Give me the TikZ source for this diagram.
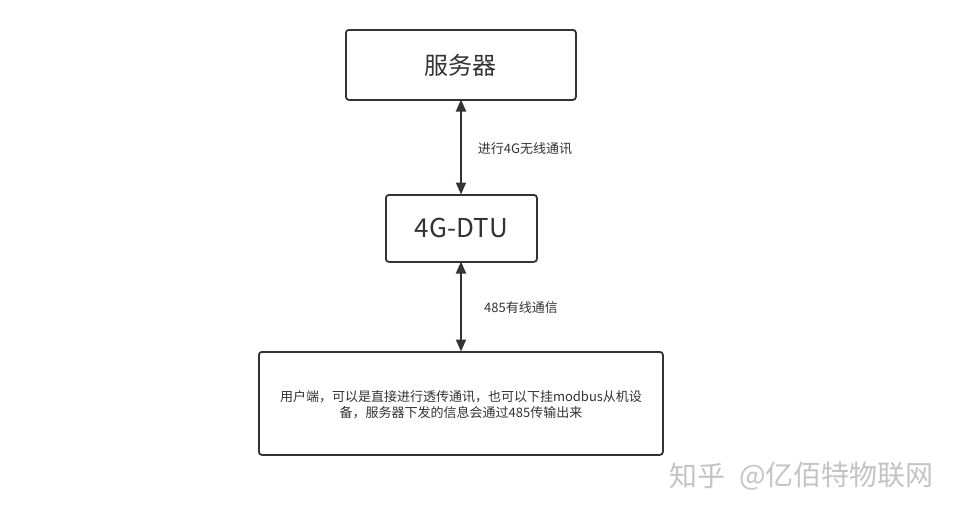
\documentclass[tikz,border=0pt]{standalone}
\usepackage{fontspec}
\setmainfont{Noto Sans CJK SC}[BoldFont={Noto Sans CJK SC}]
\usetikzlibrary{arrows.meta}
\definecolor{ink}{HTML}{333333}
\definecolor{mark}{HTML}{C4C4C4}
\tikzset{
  x=1pt,y=-1pt,
  flowbox/.style={draw=ink,line width=1.8pt,rounded corners=3pt,inner sep=0pt,anchor=north west,fill=white,text=ink,align=center},
  link/.style={draw=ink,line width=1.8pt,{Triangle[length=12pt,width=10pt]}-{Triangle[length=12pt,width=10pt]}},
  linklabel/.style={text=ink,font=\fontsize{13}{15}\selectfont,inner sep=0pt},
  watermark/.style={text=mark,font=\fontsize{28}{32}\selectfont,inner sep=0pt},
}
\begin{document}
\begin{tikzpicture}
\useasboundingbox (0,0) rectangle (956,514);
\fill[white] (0,0) rectangle (956,514);
\node[flowbox,minimum width=230pt,minimum height=70pt,font=\fontsize{24}{28}\selectfont] (server) at (345,29) {服务器};
\node[flowbox,minimum width=151pt,minimum height=67pt,font=\fontsize{26}{30}\selectfont] (dtu) at (385,194) {4G-DTU};
\node[flowbox,minimum width=404pt,minimum height=103pt] (user) at (258,351) {};
\node[text=ink,font=\fontsize{13}{15.5}\selectfont,align=center,inner sep=0pt] (usertext) at (461,404.5) {用户端，可以是直接进行透传通讯，也可以下挂modbus从机设\\备，服务器下发的信息会通过485传输出来};
\coordinate (a1) at (461,99.5);
\coordinate (a2) at (461,194.5);
\coordinate (b1) at (461,261.5);
\coordinate (b2) at (461,351.5);
\draw[link] (a1) -- (a2);
\draw[link] (b1) -- (b2);
\node[linklabel] (l1) at (525,149) {进行4G无线通讯};
\node[linklabel] (l2) at (521,308) {485有线通信};
\node[watermark,anchor=west] (wm1) at (669,476) {知乎};
\node[watermark,anchor=west] (wm2) at (739,476) {@亿佰特物联网};
\end{tikzpicture}
\end{document}
